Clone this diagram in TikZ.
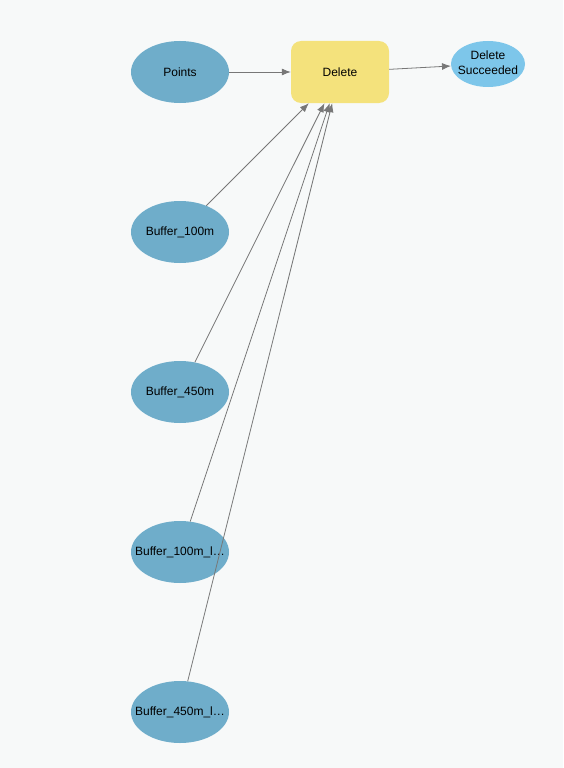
\documentclass[tikz,border=0pt]{standalone}
\usepackage{fontspec}
\setmainfont{Liberation Sans}
\usepackage{xcolor}
\usetikzlibrary{shapes.geometric, arrows.meta}

\definecolor{bgcol}{HTML}{F7F9F9}
\definecolor{datacol}{HTML}{6FADCA}
\definecolor{toolcol}{HTML}{F4E27C}
\definecolor{outcol}{HTML}{7DC6EA}
\definecolor{linkcol}{HTML}{777777}

\newcommand{\fixw}[1]{\makebox[0pt]{#1}}

\tikzset{
	dataset/.style = {ellipse, fill = datacol, minimum width = 98pt, minimum height = 62pt, inner sep = 0pt, font = \fontsize{12}{14}\selectfont},
	tool/.style = {rectangle, rounded corners = 10pt, fill = toolcol, minimum width = 98pt, minimum height = 62pt, font = \fontsize{12}{14}\selectfont},
	result/.style = {ellipse, fill = outcol, minimum width = 74pt, minimum height = 46pt, inner sep = 0pt, font = \fontsize{12}{15}\selectfont},
	link/.style = {draw = linkcol, line width = 0.8pt, -{Latex[length = 9pt, width = 7pt]}}
}

\begin{document}
\begin{tikzpicture}[x = 1pt, y = -1pt]
	\fill[bgcol] (0,0) rectangle (563,768);
	\useasboundingbox (0,0) rectangle (563,768);
	\node[dataset] (pts) at (180,72) {Points};
	\node[tool] (del) at (340,72) {Delete};
	\node[result] (done) at (488,64) {\fixw{\begin{tabular}{@{}c@{}}Delete\\Succeeded\end{tabular}}};
	\foreach \i/\t in {1/Buffer\_100m, 2/Buffer\_450m, 3/Buffer\_100m\_l\dots, 4/Buffer\_450m\_l\dots} {
	\node[dataset] (buf\i) at (180,72+160*\i) {\fixw{\t}};
	\draw[link] (buf\i) -- (del);
	}
	\draw[link] (pts) -- (del);
	\draw[link] (del) -- (done);
\end{tikzpicture}
\end{document}
